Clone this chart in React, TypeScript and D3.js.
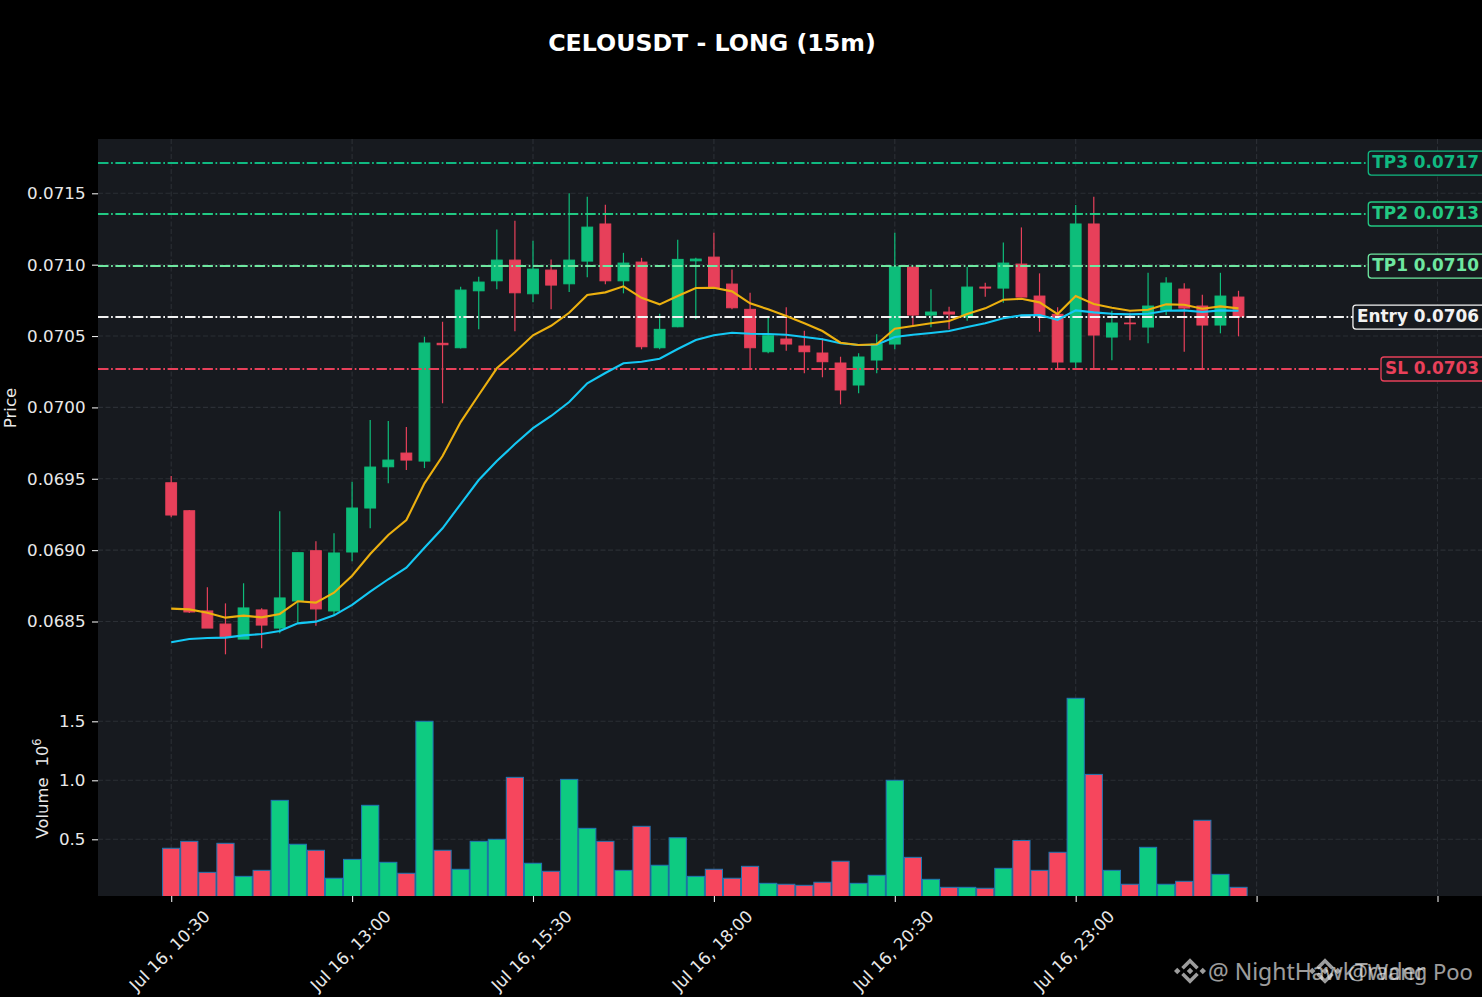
import React, { useEffect, useRef } from "react";
import * as d3 from "d3";

const opens = [
  0.069472, 0.069276, 0.068574, 0.068482, 0.068377, 0.068581, 0.068454, 0.068644, 0.068996, 0.068574,
  0.068987, 0.069295, 0.069584, 0.06968, 0.069624, 0.070449, 0.070418, 0.070817, 0.070887, 0.071032,
  0.070796, 0.070962, 0.070866, 0.071025, 0.071285, 0.070887, 0.071018, 0.070418, 0.070565, 0.071027,
  0.071053, 0.070864, 0.070687, 0.07039, 0.070479, 0.07043, 0.070381, 0.070311, 0.070157, 0.070332,
  0.070444, 0.070983, 0.070647, 0.070668, 0.070635, 0.070843, 0.070836, 0.071004, 0.07078, 0.070652,
  0.070318, 0.071285, 0.070493, 0.070591, 0.070563, 0.070682, 0.070829, 0.07071, 0.070577, 0.070773,
];
const closes = [
  0.069246, 0.068567, 0.068454, 0.068394, 0.068595, 0.068475, 0.068665, 0.068982, 0.068588, 0.06898,
  0.069295, 0.069582, 0.069631, 0.069631, 0.070451, 0.070439, 0.070822, 0.070878, 0.071032, 0.070803,
  0.070969, 0.070857, 0.071032, 0.071263, 0.070887, 0.071011, 0.070425, 0.070547, 0.071037, 0.071039,
  0.070836, 0.070698, 0.070418, 0.070502, 0.070444, 0.07039, 0.07032, 0.070122, 0.070353, 0.070444,
  0.070985, 0.070647, 0.070668, 0.070654, 0.070843, 0.070836, 0.071011, 0.070773, 0.07064, 0.070318,
  0.071285, 0.070507, 0.070591, 0.070586, 0.07071, 0.070871, 0.070696, 0.070577, 0.07078, 0.070635,
];
const highs = [
  0.069519, 0.069281, 0.06874, 0.068627, 0.068768, 0.068592, 0.069272, 0.068982, 0.069062, 0.069118,
  0.069479, 0.069912, 0.069905, 0.069862, 0.070495, 0.0706, 0.070845, 0.070915, 0.071247, 0.071308,
  0.071168, 0.071037, 0.0715, 0.071476, 0.07142, 0.071083, 0.071048, 0.070656, 0.071175, 0.071048,
  0.071224, 0.070967, 0.070803, 0.070635, 0.070701, 0.070537, 0.070484, 0.070355, 0.070379, 0.070512,
  0.071224, 0.070983, 0.070827, 0.070705, 0.070985, 0.070873, 0.071156, 0.071261, 0.070939, 0.070701,
  0.071418, 0.071476, 0.070677, 0.070663, 0.070943, 0.070911, 0.070869, 0.070789, 0.070943, 0.070817,
];
const lows = [
  0.06923, 0.06856, 0.068454, 0.06827, 0.068377, 0.068312, 0.068417, 0.068487, 0.068471, 0.068546,
  0.068922, 0.069153, 0.069468, 0.069561, 0.069575, 0.070029, 0.070412, 0.070547, 0.070827, 0.070533,
  0.070736, 0.070687, 0.070808, 0.070911, 0.070862, 0.070799, 0.070407, 0.070407, 0.070561, 0.070617,
  0.070829, 0.070687, 0.070262, 0.070379, 0.070397, 0.070239, 0.070211, 0.070021, 0.070099, 0.070239,
  0.070407, 0.070565, 0.070561, 0.070547, 0.070607, 0.070775, 0.070733, 0.070773, 0.07053, 0.070269,
  0.070269, 0.070269, 0.07033, 0.07047, 0.070449, 0.070647, 0.07039, 0.070269, 0.070519, 0.070498,
];
const volumes = [
  0.424, 0.483, 0.22, 0.466, 0.186, 0.237, 0.83, 0.458, 0.407, 0.17,
  0.33, 0.788, 0.305, 0.212, 1.5, 0.407, 0.246, 0.483, 0.5, 1.025,
  0.297, 0.229, 1.008, 0.593, 0.483, 0.237, 0.61, 0.28, 0.513, 0.186,
  0.246, 0.17, 0.271, 0.127, 0.119, 0.11, 0.136, 0.314, 0.127, 0.195,
  1.0, 0.347, 0.161, 0.093, 0.093, 0.085, 0.254, 0.49, 0.237, 0.39,
  1.695, 1.05, 0.237, 0.119, 0.432, 0.119, 0.144, 0.661, 0.203, 0.093,
];
const emaFast = [
  0.06859, 0.068585, 0.068562, 0.068527, 0.068541, 0.068529, 0.068553, 0.068642, 0.068632, 0.068702,
  0.068821, 0.068973, 0.069106, 0.069211, 0.069468, 0.069659, 0.069897, 0.070087, 0.070274, 0.070386,
  0.070505, 0.070572, 0.070663, 0.070787, 0.070806, 0.070848, 0.070768, 0.070722, 0.07078, 0.070836,
  0.070838, 0.070813, 0.070729, 0.070687, 0.07064, 0.070589, 0.070535, 0.070453, 0.070437, 0.070442,
  0.070551, 0.07057, 0.070589, 0.070605, 0.070654, 0.070694, 0.070754, 0.070761, 0.070736, 0.070654,
  0.07078, 0.070724, 0.070698, 0.070677, 0.070684, 0.070722, 0.070719, 0.070691, 0.070708, 0.070694,
];
const emaSlow = [
  0.068354, 0.068377, 0.068384, 0.068387, 0.068403, 0.068412, 0.068433, 0.068487, 0.068499, 0.068543,
  0.068616, 0.068709, 0.068796, 0.068877, 0.069017, 0.069153, 0.069323, 0.069491, 0.069624, 0.069743,
  0.069855, 0.06994, 0.070038, 0.070169, 0.070241, 0.070309, 0.07032, 0.070341, 0.070409, 0.070472,
  0.070505, 0.070523, 0.070516, 0.070514, 0.070509, 0.070493, 0.070477, 0.070449, 0.070437, 0.070439,
  0.070493, 0.070509, 0.070521, 0.070535, 0.070563, 0.070589, 0.070624, 0.070645, 0.070647, 0.070614,
  0.07068, 0.070666, 0.070656, 0.070652, 0.070656, 0.070677, 0.07068, 0.070668, 0.07068, 0.070677,
];

const priceTicks = [0.0685, 0.069, 0.0695, 0.07, 0.0705, 0.071, 0.0715];
const volumeTicks = [0.5, 1.0, 1.5];
const timeTicks = [0, 10, 20, 30, 40, 50, 60, 70];
const timeLabels = [
  "Jul 16, 10:30",
  "Jul 16, 13:00",
  "Jul 16, 15:30",
  "Jul 16, 18:00",
  "Jul 16, 20:30",
  "Jul 16, 23:00",
  "",
  "",
];

const levelNames = ["TP3 0.0717", "TP2 0.0713", "TP1 0.0710", "Entry 0.0706", "SL 0.0703"];
const levelValues = [0.071712, 0.071355, 0.07099, 0.070633, 0.070269];
const levelColors = ["#10b981", "#22c983", "#6ee7a0", "#f2f2f2", "#e8405a"];

const width = 1482;
const height = 997;
const panelLeft = 98;
const panelTop = 139;
const panelBottom = 896;

const UP = "#0dbd7a";
const DOWN = "#e7405a";
const UP_VOL = "#0ecb81";
const DOWN_VOL = "#f6465d";
const INK = "#e8e8e8";
const PANEL = "#171a1f";
const FONT = "'DejaVu Sans', sans-serif";

// binance style mark, drawn around 0,0
const binanceMark = (g: any, s: number) => {
  const diamond = (cx: number, cy: number, r: number) =>
    `M${cx - r},${cy}L${cx},${cy - r}L${cx + r},${cy}L${cx},${cy + r}Z`;
  const chevron = (dir: number) =>
    `M${-7 * s},${dir * -3.2 * s}L0,${dir * -10.2 * s}L${7 * s},${dir * -3.2 * s}L${5 * s},${dir * -1.2 * s}L0,${dir * -6.2 * s}L${-5 * s},${dir * -1.2 * s}Z`;
  g.append("path").attr("d", diamond(0, 0, 2.6 * s));
  g.append("path").attr("d", diamond(-10.2 * s, 0, 2.6 * s));
  g.append("path").attr("d", diamond(10.2 * s, 0, 2.6 * s));
  g.append("path").attr("d", chevron(1));
  g.append("path").attr("d", chevron(-1));
};

const App: React.FC = () => {
  const svgRef = useRef<any>();

  useEffect(() => {
    const svg = d3.select(svgRef.current);
    svg.selectAll("*").remove();

    const x = d3.scaleLinear().domain([0, 10]).range([171.2, 352.1]);
    const y = d3.scaleLinear().domain([0.0685, 0.0715]).range([621.5, 193.3]);
    const yVol = d3.scaleLinear().domain([0, 1.5]).range([898.3, 721.3]);
    const idx = d3.range(opens.length);

    svg.append("rect").attr("width", width).attr("height", height).attr("fill", "#000");
    svg
      .append("rect")
      .attr("x", panelLeft)
      .attr("y", panelTop)
      .attr("width", width - panelLeft)
      .attr("height", panelBottom - panelTop)
      .attr("fill", PANEL);

    svg
      .append("defs")
      .append("clipPath")
      .attr("id", "panel")
      .append("rect")
      .attr("x", panelLeft)
      .attr("y", panelTop)
      .attr("width", width - panelLeft)
      .attr("height", panelBottom - panelTop);

    // grid
    const grid = svg
      .append("g")
      .attr("stroke", "#2b2f35")
      .attr("stroke-width", 1.1)
      .attr("stroke-dasharray", "5 2.5");
    grid
      .selectAll(".gx")
      .data(timeTicks)
      .join("line")
      .attr("x1", (d) => x(d))
      .attr("x2", (d) => x(d))
      .attr("y1", panelTop)
      .attr("y2", panelBottom);
    grid
      .selectAll(".gy")
      .data(priceTicks)
      .join("line")
      .attr("x1", panelLeft)
      .attr("x2", width)
      .attr("y1", (d) => y(d))
      .attr("y2", (d) => y(d));
    grid
      .selectAll(".gv")
      .data(volumeTicks)
      .join("line")
      .attr("x1", panelLeft)
      .attr("x2", width)
      .attr("y1", (d) => yVol(d))
      .attr("y2", (d) => yVol(d));

    // volume bars
    svg
      .append("g")
      .attr("clip-path", "url(#panel)")
      .selectAll("rect")
      .data(idx)
      .join("rect")
      .attr("x", (i) => x(i) - 8.6)
      .attr("width", 17.2)
      .attr("y", (i) => yVol(volumes[i]))
      .attr("height", (i) => yVol(0) - yVol(volumes[i]))
      .attr("fill", (i) => (closes[i] >= opens[i] ? UP_VOL : DOWN_VOL))
      .attr("stroke", "#1f77b4")
      .attr("stroke-width", 1);

    // candles
    const candles = svg.append("g");
    candles
      .selectAll("line")
      .data(idx)
      .join("line")
      .attr("x1", (i) => x(i))
      .attr("x2", (i) => x(i))
      .attr("y1", (i) => y(highs[i]))
      .attr("y2", (i) => y(lows[i]))
      .attr("stroke", (i) => (closes[i] >= opens[i] ? UP : DOWN))
      .attr("stroke-width", 1.2);
    candles
      .selectAll("rect")
      .data(idx)
      .join("rect")
      .attr("x", (i) => x(i) - 5.4)
      .attr("width", 10.8)
      .attr("y", (i) => y(Math.max(opens[i], closes[i])))
      .attr("height", (i) => Math.abs(y(opens[i]) - y(closes[i])))
      .attr("fill", (i) => (closes[i] >= opens[i] ? UP : DOWN))
      .attr("stroke", (i) => (closes[i] >= opens[i] ? UP : DOWN))
      .attr("stroke-width", 1);

    // trade levels
    svg
      .append("g")
      .selectAll("line")
      .data(levelValues)
      .join("line")
      .attr("x1", panelLeft)
      .attr("x2", width)
      .attr("y1", (d) => y(d))
      .attr("y2", (d) => y(d))
      .attr("stroke", (_, i) => levelColors[i])
      .attr("stroke-width", 2)
      .attr("stroke-dasharray", "10.5 2.6 1.7 2.6");

    // ema lines
    const emaLine = d3
      .line<number>()
      .x((_, i) => x(i))
      .y((d) => y(d));
    svg
      .append("path")
      .attr("d", emaLine(emaSlow))
      .attr("fill", "none")
      .attr("stroke", "#14c8f4")
      .attr("stroke-width", 2.1);
    svg
      .append("path")
      .attr("d", emaLine(emaFast))
      .attr("fill", "none")
      .attr("stroke", "#ecb00f")
      .attr("stroke-width", 2.1);

    // level labels, right aligned against the edge
    levelValues.forEach((v, i) => {
      const g = svg.append("g");
      const box = g.append("rect");
      const label = g
        .append("text")
        .attr("x", 1479)
        .attr("y", y(v))
        .attr("dy", "0.28em")
        .attr("text-anchor", "end")
        .attr("font-family", FONT)
        .attr("font-weight", "bold")
        .attr("font-size", 16.9)
        .attr("fill", levelColors[i])
        .text(levelNames[i]);
      const len = (label.node() as any).getComputedTextLength();
      box
        .attr("x", 1479 - len - 4)
        .attr("y", y(v) - 12)
        .attr("width", len + 12)
        .attr("height", 24)
        .attr("rx", 3)
        .attr("fill", PANEL)
        .attr("stroke", levelColors[i])
        .attr("stroke-width", 1.3);
    });

    // axes
    const styleAxis = (g: any) => {
      g.select(".domain").remove();
      g.selectAll("line").attr("stroke", INK).attr("stroke-width", 1.1);
      g.selectAll("text").attr("fill", INK).attr("font-family", FONT);
    };

    svg
      .append("g")
      .attr("transform", `translate(${panelLeft},0)`)
      .call(d3.axisLeft(y).tickValues(priceTicks).tickFormat(d3.format(".4f") as any).tickSize(6).tickPadding(6.5) as any)
      .call(styleAxis)
      .selectAll("text")
      .attr("font-size", 16.7);

    svg
      .append("g")
      .attr("transform", `translate(${panelLeft},0)`)
      .call(d3.axisLeft(yVol).tickValues(volumeTicks).tickFormat(d3.format(".1f") as any).tickSize(6).tickPadding(6.5) as any)
      .call(styleAxis)
      .selectAll("text")
      .attr("font-size", 16.7);

    const xAxis = svg
      .append("g")
      .attr("transform", `translate(0,${panelBottom})`)
      .call(
        d3
          .axisBottom(x)
          .tickValues(timeTicks)
          .tickFormat((_, i) => timeLabels[i])
          .tickSize(6) as any,
      )
      .call(styleAxis);
    // rotated around the text's centre, which sits under the tick
    xAxis
      .selectAll("text")
      .attr("font-size", 16.7)
      .attr("text-anchor", "middle")
      .attr("y", 0)
      .attr("dy", "0.35em")
      .attr("transform", "translate(-2,54.5) rotate(-45)");

    // axis titles
    svg
      .append("text")
      .attr("transform", "translate(16,408) rotate(-90)")
      .attr("text-anchor", "middle")
      .attr("font-family", FONT)
      .attr("font-size", 16.7)
      .attr("fill", INK)
      .text("Price");

    const volTitle = svg
      .append("text")
      .attr("transform", "translate(48,838.5) rotate(-90)")
      .attr("font-family", FONT)
      .attr("font-size", 16.4)
      .attr("fill", INK);
    volTitle.append("tspan").text("Volume");
    volTitle.append("tspan").attr("dx", 11).text("10");
    volTitle.append("tspan").attr("dy", -7).attr("font-size", 11.5).text("6");

    svg
      .append("text")
      .attr("x", 712)
      .attr("y", 51)
      .attr("text-anchor", "middle")
      .attr("font-family", FONT)
      .attr("font-weight", "bold")
      .attr("font-size", 23.7)
      .attr("fill", "#fff")
      .text("CELOUSDT - LONG (15m)");

    // watermarks, they really do overlap in the source
    const marks = [
      { x: 1190, textX: 1208, text: "@ NightHawkTrader", size: 23 },
      { x: 1325, textX: 1348, text: "@Wang Poo", size: 22 },
    ];
    marks.forEach((m) => {
      const wm = svg.append("g").attr("opacity", 0.68);
      const icon = wm.append("g").attr("transform", `translate(${m.x},971)`).attr("fill", "#e8e8e8");
      binanceMark(icon, 1.25);
      wm.append("text")
        .attr("x", m.textX)
        .attr("y", 980)
        .attr("font-family", "'Noto Sans', sans-serif")
        .attr("font-size", m.size)
        .attr("fill", "#e8e8e8")
        .text(m.text);
    });
  }, []);

  return (
    <svg
      ref={svgRef}
      width={width}
      height={height}
      style={{ position: "fixed", left: 0, top: 0, display: "block" }}
    ></svg>
  );
};

export default App;
